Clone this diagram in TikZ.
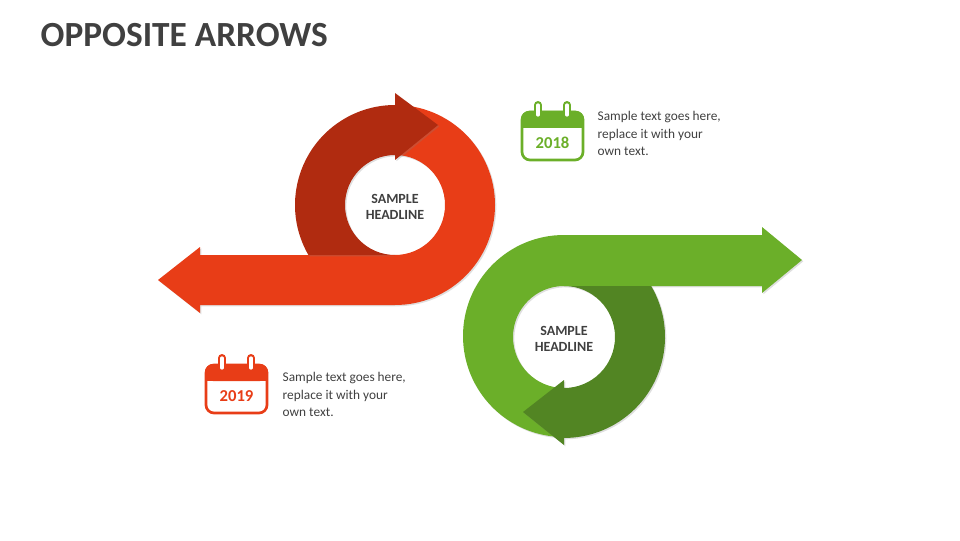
\documentclass[tikz,border=0pt]{standalone}
\usepackage{fontspec}
\setmainfont{Carlito}
\usetikzlibrary{shadows}
\definecolor{rb}{HTML}{E83D17}
\definecolor{rd}{HTML}{B02B10}
\definecolor{gb}{HTML}{6BAF29}
\definecolor{gd}{HTML}{528523}
\definecolor{tx}{HTML}{404040}
\begin{document}
\begin{tikzpicture}[x=0.75pt,y=0.75pt,
  shp/.style={drop shadow={shadow xshift=1pt,shadow yshift=-1pt,opacity=0.25}},
  head/.style={font=\bfseries\fontsize{10.5}{12.5}\selectfont,text=tx,align=center},
  body/.style={font=\fontsize{10}{13}\selectfont,text=tx,align=left,anchor=north west},
  yr/.style={font=\bfseries\fontsize{12.5}{14}\selectfont}]
\useasboundingbox (0,0) rectangle (960,540);
\node[anchor=west,font=\bfseries\fontsize{26.5}{30}\selectfont,text=tx] (title) at (36,505) {OPPOSITE ARROWS};
% green
\fill[gb,shp] (564,305) arc (90:270:101) -- (564,152) arc (270:90:51) -- (762,254) -- (762,247) -- (802,280) -- (762,313) -- (762,305) -- cycle;
\fill[gd,shp] (564,254) -- (651.2,254) arc (30.3:-90:101) -- (564,95) -- (523,128) -- (564,160) -- (564,152) arc (-90:90:51) -- cycle;
% red
\fill[rb,shp] (200,235) -- (395,235) arc (-90:90:100) -- (395,385) arc (90:-90:50) -- (200,285) -- (200,293) -- (158,260) -- (200,227) -- cycle;
\fill[rd,shp] (395,285) -- (308.4,285) arc (210:90:100) -- (395,447) -- (438,415) -- (395,380) -- (395,385) arc (90:270:50) -- cycle;
\node[head] (h1) at (395,333) {SAMPLE\\HEADLINE};
\node[head] (h2) at (564,201) {SAMPLE\\HEADLINE};
% calendars
\foreach \cx/\cy/\col/\yy/\nm in {522/428/gb/2018/c1, 206/175/rb/2019/c2}{
  \begin{scope}[shift={(\cx,\cy)}]
    \draw[\col,line width=2pt,rounded corners=6pt] (0,0) rectangle (61,-48);
    \fill[\col,rounded corners=6pt] (-1,1) -- (62,1) -- (62,-16) -- (-1,-16) -- cycle;
    \fill[\col] (-1,-10) rectangle (62,-16);
    \foreach \rx in {16,45}{
      \draw[\col,line width=6pt,line cap=round] (\rx,7) -- (\rx,-3);
      \draw[white,line width=2.4pt,line cap=round] (\rx,7) -- (\rx,-3);}
    \node[yr,text=\col] (\nm) at (30.5,-31) {\yy};
  \end{scope}}
\node[body] (t1) at (593,433) {Sample text goes here,\\replace it with your\\own text.};
\node[body] (t2) at (278,172) {Sample text goes here,\\replace it with your\\own text.};
\end{tikzpicture}
\end{document}
